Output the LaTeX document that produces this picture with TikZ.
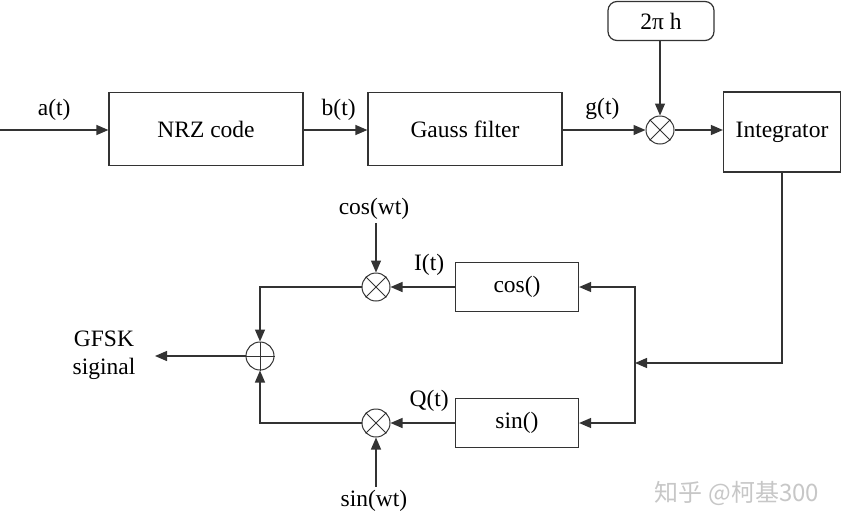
\documentclass[tikz,border=0pt]{standalone}
\usepackage{fontspec}
\setmainfont{Liberation Serif}
\newfontfamily\cjk{Noto Sans CJK SC}
\usetikzlibrary{positioning,arrows.meta}
\tikzset{
  blk/.style={draw=black!80,line width=1.2pt,minimum width=194pt,minimum height=73pt,inner sep=0pt},
  mulnode/.style={draw=black!80,line width=1pt,circle,minimum size=28pt,inner sep=0pt},
  lbl/.style={font=\fontsize{23.5}{28}\selectfont},
  wire/.style={draw=black!80,line width=1.3pt},
  arr/.style={wire,-{Triangle[length=12pt,width=10pt]}}
}
\begin{document}
\begin{tikzpicture}[x=1pt,y=-1pt,font=\fontsize{23.5}{28}\selectfont]
\useasboundingbox (0,0) rectangle (843,528);
% forward chain
\coordinate (src) at (0,130);
\node[blk] (nrz) at (206,129) {NRZ code};
\node[blk] (gauss) at (465,129) {Gauss filter};
\node[mulnode] (mg) at (660,130) {};
\draw[black!80,line width=1pt] (mg.north east) -- (mg.south west) (mg.north west) -- (mg.south east);
\node[draw=black!80,line width=1.2pt,rounded corners=9pt,minimum width=106pt,minimum height=39pt] (gain) at (661,21) {2π h};
\node[blk,minimum width=117pt,minimum height=80pt] (integ) at (782,132) {Integrator};
\draw[arr] (src) -- (src -| nrz.west) node[pos=0.5,above=6pt,lbl] (at) {a(t)};
\draw[arr] (nrz.east |- mg.west) -- (nrz.east |- mg.west -| gauss.west) node[pos=0.55,above=6pt,lbl] (bt) {b(t)};
\draw[arr] (gauss.east |- mg.west) -- (mg.west) node[pos=0.48,above=6pt,lbl] (gt) {g(t)};
\draw[arr] (gain.south -| mg.north) -- (mg.north);
\draw[arr] (mg.east) -- (mg.east -| integ.west);
% I/Q branches
\coordinate (split) at (635,363);
\node[blk,minimum width=123pt,minimum height=49pt] (cosb) at (517,287) {cos()};
\node[blk,minimum width=123pt,minimum height=49pt] (sinb) at (517,423) {sin()};
\draw[arr] (integ.south) |- (split);
\draw[arr] (split) |- (cosb.east);
\draw[arr] (split) |- (sinb.east);
\node[mulnode] (mi) at (376,287) {};
\draw[black!80,line width=1pt] (mi.north east) -- (mi.south west) (mi.north west) -- (mi.south east);
\node[mulnode] (mq) at (376,423) {};
\draw[black!80,line width=1pt] (mq.north east) -- (mq.south west) (mq.north west) -- (mq.south east);
\draw[arr] (cosb.west) -- (mi.east) node[pos=0.4,above=8pt,lbl] (it) {I(t)};
\draw[arr] (sinb.west) -- (mq.east) node[pos=0.4,above=8pt,lbl] (qt) {Q(t)};
\node[lbl] (cwt) at (374,209) {cos(wt)};
\node[lbl] (swt) at (374,501) {sin(wt)};
\draw[arr] (cwt.south -| mi.north) -- (mi.north);
\draw[arr] (swt.north -| mq.south) -- (mq.south);
% summing node and output
\node[mulnode] (sum) at (260,356) {};
\draw[black!80,line width=1pt] (sum.north) -- (sum.south) (sum.west) -- (sum.east);
\draw[arr] (mi.west) -| (sum.north);
\draw[arr] (mq.west) -| (sum.south);
\coordinate (out) at (155,356);
\draw[arr] (sum.west) -- (out);
\node[lbl,align=center] (gfsk) at (104,355) {GFSK\\siginal};
% watermark
\node[font=\cjk\fontsize{24}{28}\selectfont,text=black!22] (wm) at (737,493) {知乎 @柯基300};
\end{tikzpicture}
\end{document}
